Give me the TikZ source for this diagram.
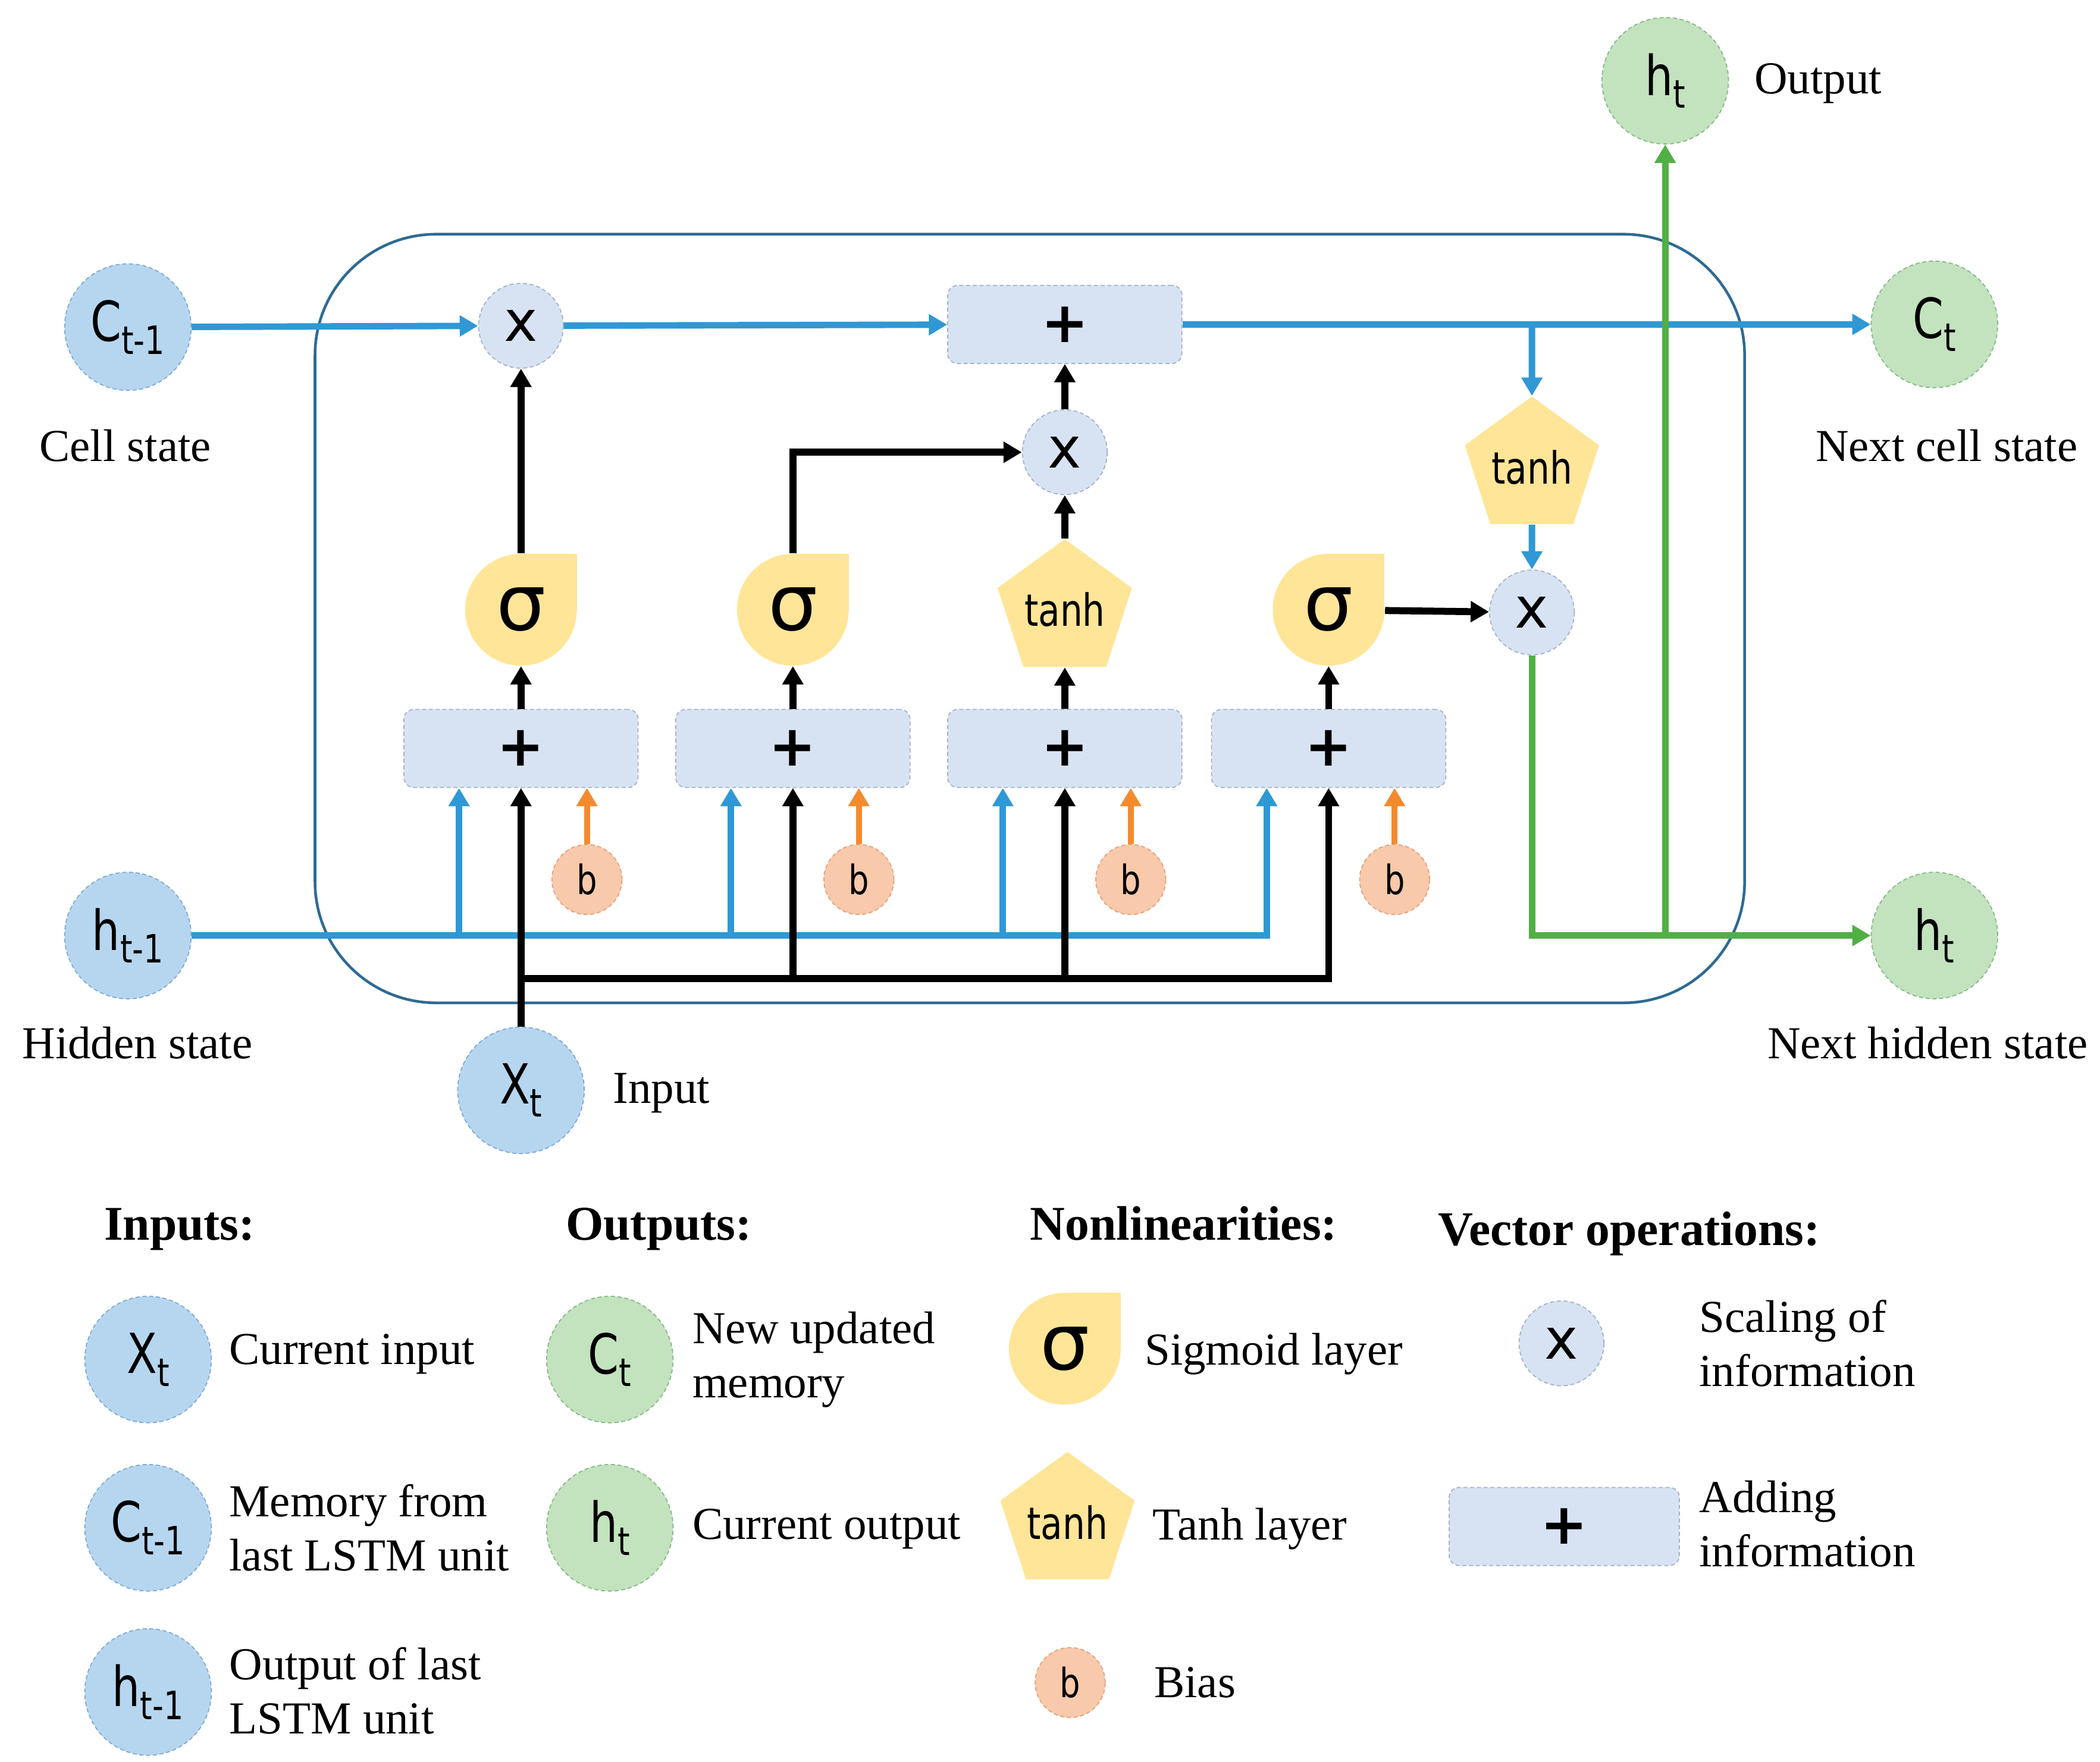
\documentclass[tikz,border=0pt]{standalone}
\usepackage{fontspec}
\setmainfont{Liberation Serif}
\newfontfamily\nodefont[FakeStretch=0.8]{DejaVu Sans}
\newfontfamily\opfont{DejaVu Sans}
\usetikzlibrary{arrows.meta,shapes.geometric}

\definecolor{stateblue}{HTML}{B6D6F0}
\definecolor{stateborder}{HTML}{7FAAD3}
\definecolor{outgreen}{HTML}{C3E2BE}
\definecolor{outborder}{HTML}{86B989}
\definecolor{opblue}{HTML}{D7E3F3}
\definecolor{opborder}{HTML}{A3B3C8}
\definecolor{gateyellow}{HTML}{FFE597}
\definecolor{biaspeach}{HTML}{F8C9AA}
\definecolor{biasborder}{HTML}{E3A27E}
\definecolor{flowblue}{HTML}{2F98D5}
\definecolor{flowgreen}{HTML}{52AF46}
\definecolor{floworange}{HTML}{F38A2E}
\definecolor{framecol}{HTML}{2E6A95}

% 添字つきの記号
\newcommand{\vsym}[2]{{\nodefont\fontsize{20.5}{21}\selectfont #1\raisebox{-4.8pt}{\fontsize{14.5}{15}\selectfont #2}}}
% シグモイドの右上の角
\newcommand{\sigcorner}[2]{\fill[gateyellow] (#1,#2) rectangle ++(41.5,-41.5);}

\begin{document}
\begin{tikzpicture}[x=0.5pt, y=-0.5pt,
    statenode/.style={circle, minimum size=47pt, inner sep=0pt, fill=stateblue,
      draw=stateborder, line width=0.4pt, dash pattern=on 1.5pt off 1pt},
    outnode/.style={statenode, fill=outgreen, draw=outborder},
    mulnode/.style={circle, minimum size=31.5pt, inner sep=0pt, fill=opblue,
      draw=opborder, line width=0.4pt, dash pattern=on 1.5pt off 1pt,
      font=\opfont\fontsize{21}{21}\selectfont},
    addnode/.style={rectangle, rounded corners=3.7pt, minimum width=87pt,
      minimum height=29pt, inner sep=0pt, fill=opblue, draw=opborder,
      line width=0.4pt, dash pattern=on 1.5pt off 1pt,
      font=\opfont\bfseries\fontsize{21}{21}\selectfont},
    signode/.style={circle, minimum size=41.5pt, inner sep=0pt, fill=gateyellow,
      font=\opfont\fontsize{29}{29}\selectfont},
    tanhnode/.style={regular polygon, regular polygon sides=5, minimum size=47.5pt,
      inner sep=0pt, fill=gateyellow, font=\nodefont\fontsize{16.5}{17}\selectfont},
    biasnode/.style={circle, minimum size=26pt, inner sep=0pt, fill=biaspeach,
      draw=biasborder, line width=0.4pt, dash pattern=on 1.5pt off 1pt,
      font=\nodefont\fontsize{15}{15}\selectfont},
    lbl/.style={inner sep=0pt, font=\fontsize{17}{20}\selectfont},
    hdr/.style={inner sep=0pt, font=\bfseries\fontsize{18}{21}\selectfont},
    headtip/.style={-{Triangle[length=6.8pt,width=7.5pt]}},
    cline/.style={headtip, draw=flowblue, line width=2.4pt},
    kline/.style={headtip, draw=black, line width=2.6pt},
    gline/.style={headtip, draw=flowgreen, line width=2.4pt},
    bline/.style={headtip, draw=floworange, line width=2.2pt}]
  \useasboundingbox (0,0) rectangle (1560,1309);

  % LSTMセルの枠
  \draw[framecol, line width=1pt, rounded corners=45pt] (234,174) rectangle (1296,745);

  % 入力と出力
  \node[statenode] (cprev) at (95,243) {\vsym{C}{t-1}};
  \node[statenode] (hprev) at (95,695) {\vsym{h}{t-1}};
  \node[statenode] (xin) at (387,810) {\vsym{X}{t}};
  \node[outnode] (cnext) at (1437,241) {\vsym{C}{t}};
  \node[outnode] (hnext) at (1437,695) {\vsym{h}{t}};
  \node[outnode] (hout) at (1237,60) {\vsym{h}{t}};

  % 入出力のラベル
  \node[lbl] (celltxt) at (93,331) {Cell state};
  \node[lbl] (hidtxt) at (102,775) {Hidden state};
  \node[lbl, anchor=west] (intxt) at (455,812) {Input};
  \node[lbl, anchor=west] (outtxt) at (1303,62) {Output};
  \node[lbl] (nctxt) at (1446,331) {Next cell state};
  \node[lbl] (nhtxt) at (1432,775) {Next hidden state};

  % 掛け算と足し算（セル状態の経路）
  \node[mulnode] (mf) at (387,242) {x};
  \node[addnode] (addc) at (791,241) {+};
  \node[mulnode] (mi) at (791,336) {x};
  \node[tanhnode, minimum size=49pt] (tc) at (1138,347) {tanh};
  \node[mulnode] (mo) at (1138,455) {x};

  % ゲート
  \sigcorner{387}{453}
  \node[signode] (sf) at (387,453) {σ};
  \sigcorner{589}{453}
  \node[signode] (si) at (589,453) {σ};
  \node[tanhnode] (tg) at (791,453) {tanh};
  \sigcorner{987}{453}
  \node[signode] (so) at (987,453) {σ};

  % ゲートの前の足し算
  \node[addnode] (a1) at (387,556) {+};
  \node[addnode] (a2) at (589,556) {+};
  \node[addnode] (a3) at (791,556) {+};
  \node[addnode] (a4) at (987,556) {+};

  % バイアス
  \node[biasnode] (b1) at ([xshift=24.5pt,yshift=-34pt]a1.south) {b};
  \node[biasnode] (b2) at ([xshift=24.5pt,yshift=-34pt]a2.south) {b};
  \node[biasnode] (b3) at ([xshift=24.5pt,yshift=-34pt]a3.south) {b};
  \node[biasnode] (b4) at ([xshift=24.5pt,yshift=-34pt]a4.south) {b};

  % 分岐点
  \coordinate (hb1) at ([xshift=-23pt]a1.south);
  \coordinate (hb2) at ([xshift=-23pt]a2.south);
  \coordinate (hb3) at ([xshift=-23pt]a3.south);
  \coordinate (hb4) at ([xshift=-23pt]a4.south);
  \coordinate (xbus) at (387,727);
  \coordinate (csplit) at (tc |- addc);
  \coordinate (hsplit) at (hout |- hnext);

  % セル状態の青い線
  \draw[cline] (cprev) -- (mf);
  \draw[cline] (mf) -- (addc);
  \draw[cline] (addc) -- (cnext);
  \draw[cline] (csplit) -- (tc);
  \draw[cline] (tc) -- (mo);

  % 前の隠れ状態の青い線
  \draw[cline] (hprev.east) -| (hb4);
  \draw[cline] (hb1 |- hprev) -- (hb1);
  \draw[cline] (hb2 |- hprev) -- (hb2);
  \draw[cline] (hb3 |- hprev) -- (hb3);

  % 入力の黒い線
  \draw[kline] (xin) -- (a1);
  \draw[kline] (xbus) -| (a4);
  \draw[kline] (xbus -| a2) -- (a2);
  \draw[kline] (xbus -| a3) -- (a3);

  % バイアスの矢印
  \draw[bline] (b1) -- (b1 |- a1.south);
  \draw[bline] (b2) -- (b2 |- a2.south);
  \draw[bline] (b3) -- (b3 |- a3.south);
  \draw[bline] (b4) -- (b4 |- a4.south);

  % ゲートの中の黒い矢印
  \draw[kline] (a1) -- (sf);
  \draw[kline] (a2) -- (si);
  \draw[kline] (a3) -- (tg);
  \draw[kline] (a4) -- (so);
  \draw[kline] (sf) -- (mf);
  \draw[kline] (si.north) |- (mi);
  \draw[kline] (tg) -- (mi);
  \draw[kline] (mi) -- (addc);
  \draw[kline] (so) -- (mo);

  % 出力の緑の線
  \draw[gline] (mo) |- (hnext);
  \draw[gline] (hsplit) -- (hout);

  % 凡例の見出し
  \node[hdr, anchor=base west] (hin) at (77,921) {Inputs:};
  \node[hdr, anchor=base west] (hou) at (420,921) {Outputs:};
  \node[hdr, anchor=base west] (hnl) at (765,921) {Nonlinearities:};
  \node[hdr, anchor=base west] (hvo) at (1068,925) {Vector operations:};

  % 凡例：入力
  \node[statenode] (lxin) at (110,1010) {\vsym{X}{t}};
  \node[lbl, anchor=west] (lxtxt) at (170,1006) {Current input};
  \node[statenode] (lcprev) at (110,1135) {\vsym{C}{t-1}};
  \node[lbl, anchor=west, align=left] (lctxt) at (170,1135) {Memory from\\last LSTM unit};
  \node[statenode] (lhprev) at (110,1257) {\vsym{h}{t-1}};
  \node[lbl, anchor=west, align=left] (lhtxt) at (170,1256) {Output of last\\LSTM unit};

  % 凡例：出力
  \node[outnode] (lcnext) at (453,1010) {\vsym{C}{t}};
  \node[lbl, anchor=west, align=left] (lcntxt) at (514,1010) {New updated\\memory};
  \node[outnode] (lhnext) at (453,1135) {\vsym{h}{t}};
  \node[lbl, anchor=west] (lhntxt) at (514,1136) {Current output};

  % 凡例：非線形
  \sigcorner{791}{1002}
  \node[signode] (lsig) at (791,1002) {σ};
  \node[lbl, anchor=west] (lsigtxt) at (850,1006) {Sigmoid layer};
  \node[tanhnode, minimum size=47pt] (ltanh) at (793,1131) {tanh};
  \node[lbl, anchor=west] (ltanhtxt) at (856,1136) {Tanh layer};
  \node[biasnode] (lbias) at (795,1250) {b};
  \node[lbl, anchor=west] (lbiastxt) at (857,1250) {Bias};

  % 凡例：ベクトル演算
  \node[mulnode] (lmul) at (1160,998) {x};
  \node[lbl, anchor=west, align=left] (lmultxt) at (1262,998) {Scaling of\\information};
  \node[addnode, minimum width=85.5pt] (ladd) at (1162,1134) {+};
  \node[lbl, anchor=west, align=left] (laddtxt) at (1262,1132) {Adding\\information};
\end{tikzpicture}
\end{document}
